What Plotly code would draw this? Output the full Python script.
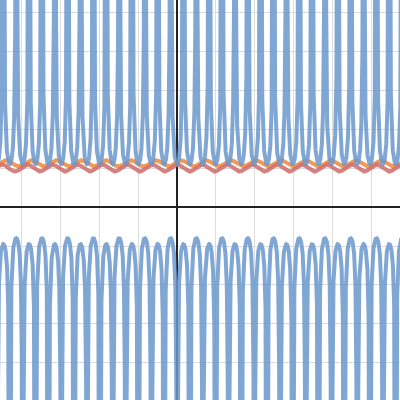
import numpy as np
import plotly.graph_objects as go

# read-off parameters (graph units: one grid square = 1)
x_range = [-4.54, 5.72]
y_range = [-4.95, 5.31]
blue_upper_min = [1.1]
blue_lower_max = [-0.80, -0.95]   # alternating loop heights
blue_period = [0.33]
red_center, red_amp, red_period = [1.0], [0.09], [0.64]
orange_center, orange_amp, orange_shift = [1.12], [0.08], [0.1]

x = np.linspace(x_range[0] - 0.2, x_range[1] + 0.2, 8000)
c = np.maximum(np.abs(np.cos(np.pi * x / blue_period[0])), 0.05)
upper = blue_upper_min[0] / c
alt = np.cos(np.pi * (x + blue_period[0] / 2) / blue_period[0])
lo_amp = (blue_lower_max[0] + blue_lower_max[1]) / 2 + (blue_lower_max[0] - blue_lower_max[1]) / 2 * np.sign(alt)
lower = lo_amp / np.maximum(np.abs(alt), 0.05)
red = red_center[0] + red_amp[0] * np.cos(2 * np.pi * x / red_period[0])
orange = orange_center[0] + orange_amp[0] * np.cos(2 * np.pi * (x - orange_shift[0]) / red_period[0])

fig = go.Figure()
for yy, col in [(orange, "#f0883a"), (red, "#cf6a6a"), (upper, "#6b98cc"), (lower, "#6b98cc")]:
    fig.add_trace(go.Scatter(x=x, y=yy, mode="lines", line=dict(color=col, width=4), opacity=0.85, hoverinfo="skip"))

grid = dict(showgrid=True, gridcolor="#dcdcdc", gridwidth=1, dtick=1, zeroline=True,
            zerolinecolor="#222", zerolinewidth=2, showticklabels=False, ticks="", fixedrange=True)
fig.update_xaxes(range=x_range, tick0=0, **grid)
fig.update_yaxes(range=y_range, tick0=0, **grid)
fig.update_layout(width=400, height=400, margin=dict(l=0, r=0, t=0, b=0),
                  plot_bgcolor="white", paper_bgcolor="white", showlegend=False)
fig.write_html("out.html", config={"displayModeBar": False},
               post_script="document.body.style.margin='0';document.body.style.overflow='hidden';")
